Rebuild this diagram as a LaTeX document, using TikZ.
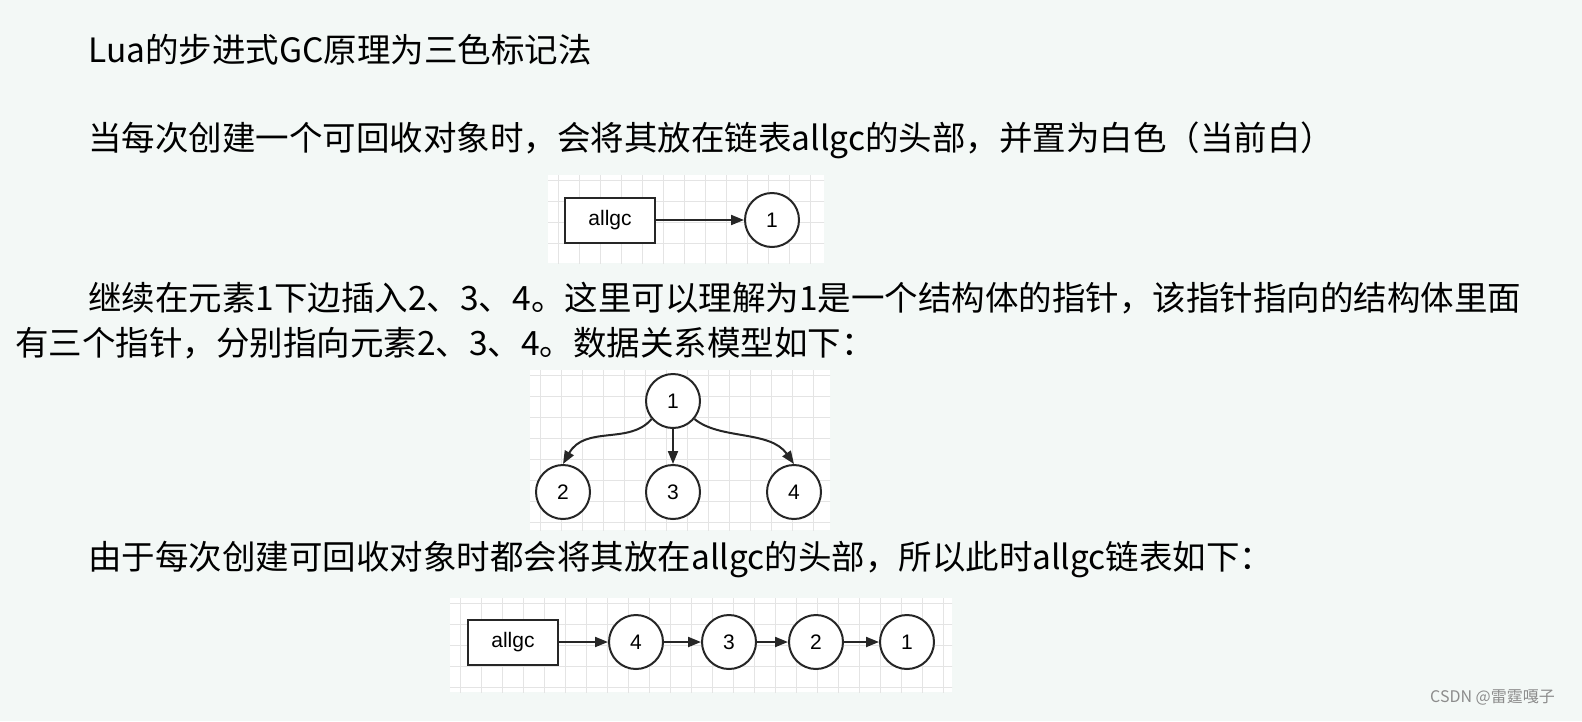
\documentclass[tikz,border=0pt]{standalone}
\usepackage{fontspec}
\setmainfont{Liberation Sans}
\newfontfamily\cjk{Noto Sans CJK SC}
\usetikzlibrary{arrows.meta,decorations.pathmorphing}
\definecolor{bgc}{HTML}{F3F8F6}
\definecolor{gridc}{HTML}{E4E4E4}
\begin{document}
\begin{tikzpicture}[x=1pt,y=-1pt,
  txt/.style={anchor=west,inner sep=0pt,font=\fontsize{33.5}{35}\selectfont\cjk},
  circ/.style={circle,draw=black!85,line width=2pt,minimum size=54pt,inner sep=0pt,fill=white,font=\fontsize{21}{22}\selectfont},
  bx/.style={draw=black!85,line width=2pt,minimum width=90pt,minimum height=45pt,inner sep=0pt,fill=white,font=\fontsize{21}{22}\selectfont},
  arr/.style={line width=2pt,draw=black!85,-{Triangle[length=13pt,width=10pt]}}]
\fill[bgc] (0,0) rectangle (1582,721);
\useasboundingbox (0,0) rectangle (1582,721);
% panels
\foreach \xa/\ya/\xb/\yb in {548/175/824/263, 530/370/830/530, 450/598/952/692}{
  \fill[white] (\xa,\ya) rectangle (\xb,\yb);
  \begin{scope}
  \clip (\xa,\ya) rectangle (\xb,\yb);
  \draw[gridc,line width=0.8pt,step=21pt,shift={(\xa+10,\ya+5)}] (-30,-30) grid (\xb-\xa+30,\yb-\ya+30);
  \end{scope}
}
% texts
\node[txt] (t1) at (88,50) {Lua的步进式GC原理为三色标记法};
\node[txt] (t2) at (88,140) {当每次创建一个可回收对象时，会将其放在链表allgc的头部，并置为白色（当前白）};
\node[txt] (t3) at (88,298) {继续在元素1下边插入2、3、4。这里可以理解为1是一个结构体的指针，该指针指向的结构体里面};
\node[txt] (t4) at (15,343) {有三个指针，分别指向元素2、3、4。数据关系模型如下：};
\node[txt] (t5) at (88,560) {由于每次创建可回收对象时都会将其放在allgc的头部，所以此时allgc链表如下：};
\node[anchor=east,inner sep=0pt,text=black!45,font=\fontsize{16}{17}\selectfont\cjk] (wm) at (1555,697) {CSDN @雷霆嘎子};
% diagram 1
\node[bx] (a1) at (610,220) {allgc};
\node[circ] (c1) at (772,220) {1};
\draw[arr] (a1) -- (c1);
% diagram 2
\node[circ] (n1) at (673,401) {1};
\node[circ] (n2) at (563,492) {2};
\node[circ] (n3) at (673,492) {3};
\node[circ] (n4) at (794,492) {4};
\draw[arr] (n1.220) .. controls (630,445) and (585,425) .. (n2.north);
\draw[arr] (n1) -- (n3);
\draw[arr] (n1.320) .. controls (720,440) and (770,430) .. (n4.north);
% diagram 3
\node[bx] (a2) at (513,642) {allgc};
\node[circ] (m4) at (636,642) {4};
\node[circ] (m3) at (729,642) {3};
\node[circ] (m2) at (816,642) {2};
\node[circ] (m1) at (907,642) {1};
\draw[arr] (a2) -- (m4);
\draw[arr] (m4) -- (m3);
\draw[arr] (m3) -- (m2);
\draw[arr] (m2) -- (m1);
\end{tikzpicture}
\end{document}
